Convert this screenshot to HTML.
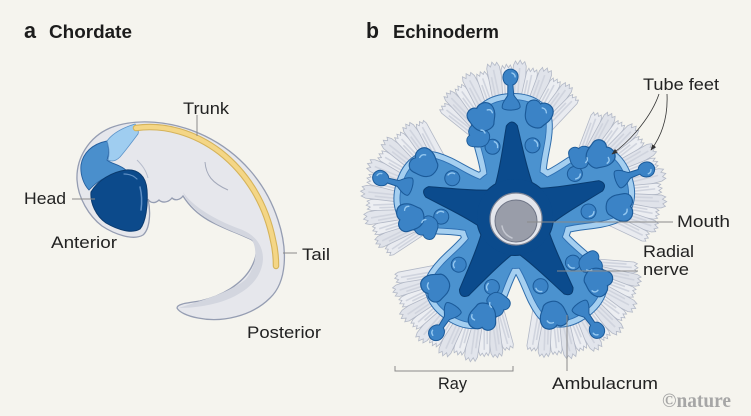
<!DOCTYPE html>
<html><head><meta charset="utf-8"><style>
html,body{margin:0;padding:0;background:#f5f4ee;}
svg{display:block;}
.lbl{font-family:"Liberation Sans",Arial,sans-serif;font-size:17px;fill:#222;}
.ttl{font-family:"Liberation Sans",Arial,sans-serif;font-weight:bold;fill:#1c1c1c;}
</style></head><body>
<svg width="751" height="416" viewBox="0 0 751 416" xmlns="http://www.w3.org/2000/svg">
<defs>
  <path id="lobe" d="M -26,-42 C -27,-60 -34,-74 -34,-92 C -34,-108 -19,-117 0,-117 C 19,-117 34,-108 34,-92 C 34,-74 27,-60 26,-42 Z"/>
  <path id="darm" d="M -18,-33 C -12,-52 -9,-72 -5,-91 Q 0,-98 5,-91 C 9,-72 12,-52 18,-33 Z"/>
  <path id="blob" d="M -12,-3 C -13,-10 -5,-13 -1,-9 C 3,-13 12,-11 12,-3 C 12,3 8,6 6,10 C 3,13 -5,13 -8,9 C -11,6 -11,2 -12,-3 Z"/>
  <g id="spine">
    <path d="M -6,0 L -5.5,-46 L -4,-50 L -2,-47 L 0,-51 L 2,-47.5 L 4,-50 L 5.5,-46 L 6,0 Z" stroke="#b2b8c6" stroke-width="0.8" vector-effect="non-scaling-stroke"/>
    <path d="M 0,-4 V -44 M -3,-8 V -38" fill="none" stroke="#d0d4de" stroke-width="1.6" vector-effect="non-scaling-stroke"/>
  </g>
  <g id="sp">
    <use href="#spine" fill="#e9ebf0" transform="translate(0,-55) rotate(-50) translate(0,-45) scale(1,0.9)"/>
    <use href="#spine" fill="#dfe2e9" transform="translate(0,-55) rotate(-42) translate(0,-45) scale(1.08,1)"/>
    <use href="#spine" fill="#eceef2" transform="translate(0,-55) rotate(-34) translate(0,-45) scale(1,0.96)"/>
    <use href="#spine" fill="#e2e5ec" transform="translate(0,-55) rotate(-26) translate(0,-45) scale(1.17,1.08)"/>
    <use href="#spine" fill="#eceef2" transform="translate(0,-55) rotate(-18) translate(0,-45) scale(1,1)"/>
    <use href="#spine" fill="#e0e3ea" transform="translate(0,-55) rotate(-10) translate(0,-45) scale(1.17,1.12)"/>
    <use href="#spine" fill="#eceef2" transform="translate(0,-55) rotate(-2) translate(0,-45) scale(1,1.04)"/>
    <use href="#spine" fill="#e2e5ec" transform="translate(0,-55) rotate(6) translate(0,-45) scale(1.17,1.12)"/>
    <use href="#spine" fill="#eceef2" transform="translate(0,-55) rotate(14) translate(0,-45) scale(1,1)"/>
    <use href="#spine" fill="#e0e3ea" transform="translate(0,-55) rotate(22) translate(0,-45) scale(1.17,1.08)"/>
    <use href="#spine" fill="#eceef2" transform="translate(0,-55) rotate(30) translate(0,-45) scale(1,0.96)"/>
    <use href="#spine" fill="#e2e5ec" transform="translate(0,-55) rotate(38) translate(0,-45) scale(1.08,1)"/>
    <use href="#spine" fill="#e9ebf0" transform="translate(0,-55) rotate(46) translate(0,-45) scale(1,0.9)"/>
  </g>
  <g id="feet">
    <g fill="#3b83c6" stroke="#1b5a99" stroke-width="1">
      <circle cx="-20" cy="-71" r="7.5"/>
      <circle cx="20" cy="-71" r="7.5"/>
      <use href="#blob" transform="translate(-34,-82) rotate(-75) scale(0.95)"/>
      <use href="#blob" transform="translate(-29,-101) rotate(-25) scale(1.15)"/>
      <use href="#blob" transform="translate(27,-102) rotate(20) scale(1.15)"/>
      <path d="M -9,-110 C -9,-116 -4,-119 -3,-122 L -2.5,-132 C -7.5,-134 -8.5,-141 -5.5,-145 C -2,-149 3,-149 6.5,-145 C 9.5,-141 7.5,-134 2.5,-132 L 3,-122 C 4,-119 9,-116 9,-110 C 9,-106 -9,-106 -9,-110 Z"/>
    </g>
    <g fill="none" stroke="#95c8f0" stroke-width="1.4" stroke-linecap="round">
      <path d="M -18,-76 A 5 5 0 0 1 -15,-70"/>
      <path d="M 22,-76 A 5 5 0 0 1 25,-70"/>
      <path d="M -24,-108 Q -20,-109 -19,-105"/>
      <path d="M 31,-108 Q 35,-107 35,-103"/>
      <path d="M -31,-88 Q -28,-88 -27,-85"/>
      <path d="M 2,-144 Q 5,-143 5,-140"/>
    </g>
  </g>
  <marker id="ah" viewBox="0 0 10 10" refX="9" refY="5" markerWidth="6" markerHeight="6" markerUnits="userSpaceOnUse" orient="auto"><path d="M0,1 L10,5 L0,9 Z" fill="#333"/></marker>
</defs>

<rect width="751" height="416" fill="#f5f4ee"/>

<!-- Titles -->
<text class="ttl" x="24" y="38" font-size="22" textLength="12" lengthAdjust="spacingAndGlyphs">a</text>
<text class="ttl" x="49" y="38" font-size="18" textLength="83" lengthAdjust="spacingAndGlyphs">Chordate</text>
<text class="ttl" x="366" y="38" font-size="22" textLength="13" lengthAdjust="spacingAndGlyphs">b</text>
<text class="ttl" x="393" y="38" font-size="18" textLength="106" lengthAdjust="spacingAndGlyphs">Echinoderm</text>

<!-- ===== Chordate embryo ===== -->
<path d="M 77,180 C 76,158 89,137 110,128 C 135,118 172,120 205,136 C 240,153 266,183 278,220 C 288,250 287,282 270,298 C 252,316 222,323 198,318 C 187,316 179,312 177,308 C 177,304 186,303 200,301 C 222,296 242,284 251,268 C 258,255 258,245 252,240 C 240,234 222,228 208,220 C 196,213 188,204 183,196 C 180,200 175,201 172,198 C 168,203 162,203 159,200 C 155,204 150,203 148,199 C 151,212 150,229 143,235 C 133,241 114,234 102,226 C 89,216 78,198 77,180 Z" fill="#e6e7ec" stroke="#959db2" stroke-width="1.3"/>
<path d="M 183,192 C 192,206 215,220 240,229 C 256,235 263,246 263,259 C 262,277 249,291 226,300 C 210,306 192,308 179,308 C 192,303 226,295 245,280 C 256,268 258,250 252,240 C 238,233 215,226 201,214 C 191,206 185,199 183,192 Z" fill="#d3d6df"/>
<path d="M 205,162 C 206,175 212,183 228,190" fill="none" stroke="#a3a9ba" stroke-width="1"/>
<path d="M 137,160 C 142,165 146,170 148,178" fill="none" stroke="#b6bccb" stroke-width="1"/>
<!-- head -->
<path d="M 89,190 C 84,185 80,175 81,165 C 83,153 92,144 107,141 C 109,148 109,155 107,160 C 111,164 120,164 127,171 C 113,172 98,180 89,190 Z" fill="#4a8fcc" stroke="#245f9f" stroke-width="0.9"/>
<path d="M 107,141 C 112,134 122,128 135,124 C 138,128 139,131 138,134 C 132,142 126,150 120,157 C 116,161 112,162 108,160 C 110,153 109,147 107,141 Z" fill="#9fcdf0" stroke="#5b93c9" stroke-width="0.8"/>
<path d="M 91,192 C 98,180 112,172 126,170 C 138,169 146,176 147,190 C 148,205 146,222 140,229 C 132,234 118,230 106,223 C 96,216 90,203 91,192 Z" fill="#0c4a8b" stroke="#0a3a6e" stroke-width="1"/>
<path d="M 140,187 C 142,195 142,203 141,210" fill="none" stroke="#5f8fc4" stroke-width="1.5" stroke-linecap="round"/>
<path d="M 124,174 C 130,174 134,176 137,179" fill="none" stroke="#5f8fc4" stroke-width="1.2" stroke-linecap="round"/>
<!-- notochord -->
<path d="M 136,128 C 165,124 195,133 220,152 C 248,174 266,205 273,240 C 276,252 276,260 276,266" fill="none" stroke="#d5b35a" stroke-width="6.5" stroke-linecap="round"/>
<path d="M 136,128 C 165,124 195,133 220,152 C 248,174 266,205 273,240 C 276,252 276,260 276,266" fill="none" stroke="#f4d686" stroke-width="4.3" stroke-linecap="round"/>

<!-- chordate pointers -->
<g stroke="#8a8a8a" stroke-width="1" fill="none">
  <path d="M197,115 V136"/>
  <path d="M72,199 H95"/>
  <path d="M283,253 H297"/>
</g>
<text class="lbl" x="183" y="114" textLength="46" lengthAdjust="spacingAndGlyphs">Trunk</text>
<text class="lbl" x="24" y="204" textLength="42" lengthAdjust="spacingAndGlyphs">Head</text>
<text class="lbl" x="51" y="248" textLength="66" lengthAdjust="spacingAndGlyphs">Anterior</text>
<text class="lbl" x="302" y="260" textLength="28" lengthAdjust="spacingAndGlyphs">Tail</text>
<text class="lbl" x="247" y="338" textLength="74" lengthAdjust="spacingAndGlyphs">Posterior</text>

<!-- ===== Echinoderm ===== -->
<!-- spines -->
<use href="#sp" transform="translate(515,217) rotate(-2)"/>
<use href="#sp" transform="translate(515,217) rotate(70)"/>
<use href="#sp" transform="translate(515,217) rotate(144)"/>
<use href="#sp" transform="translate(515,217) rotate(214)"/>
<use href="#sp" transform="translate(515,217) rotate(286)"/>

<!-- body border layers -->
<g fill="none" stroke="#2f6dac" stroke-width="14" stroke-linejoin="round">
  <use href="#lobe" transform="translate(515,217) rotate(-2)"/>
  <use href="#lobe" transform="translate(515,217) rotate(70)"/>
  <use href="#lobe" transform="translate(515,217) rotate(144)"/>
  <use href="#lobe" transform="translate(515,217) rotate(214)"/>
  <use href="#lobe" transform="translate(515,217) rotate(286)"/>
  <circle cx="515" cy="217" r="51"/>
</g>
<g fill="none" stroke="#a5cff0" stroke-width="12" stroke-linejoin="round">
  <use href="#lobe" transform="translate(515,217) rotate(-2)"/>
  <use href="#lobe" transform="translate(515,217) rotate(70)"/>
  <use href="#lobe" transform="translate(515,217) rotate(144)"/>
  <use href="#lobe" transform="translate(515,217) rotate(214)"/>
  <use href="#lobe" transform="translate(515,217) rotate(286)"/>
  <circle cx="515" cy="217" r="51"/>
</g>
<g fill="none" stroke="#2f70b3" stroke-width="1.8">
  <use href="#lobe" transform="translate(515,217) rotate(-2)"/>
  <use href="#lobe" transform="translate(515,217) rotate(70)"/>
  <use href="#lobe" transform="translate(515,217) rotate(144)"/>
  <use href="#lobe" transform="translate(515,217) rotate(214)"/>
  <use href="#lobe" transform="translate(515,217) rotate(286)"/>
  <circle cx="515" cy="217" r="51"/>
</g>
<g fill="#4b92cf">
  <use href="#lobe" transform="translate(515,217) rotate(-2)"/>
  <use href="#lobe" transform="translate(515,217) rotate(70)"/>
  <use href="#lobe" transform="translate(515,217) rotate(144)"/>
  <use href="#lobe" transform="translate(515,217) rotate(214)"/>
  <use href="#lobe" transform="translate(515,217) rotate(286)"/>
  <circle cx="515" cy="217" r="51"/>
</g>

<!-- dark radial star -->
<g fill="none" stroke="#083b70" stroke-width="2">
  <use href="#darm" transform="translate(515,217) rotate(-2)"/>
  <use href="#darm" transform="translate(515,217) rotate(70)"/>
  <use href="#darm" transform="translate(515,217) rotate(144)"/>
  <use href="#darm" transform="translate(515,217) rotate(214)"/>
  <use href="#darm" transform="translate(515,217) rotate(286)"/>
  <circle cx="515" cy="217" r="38"/>
</g>
<g fill="#0b4b8d">
  <use href="#darm" transform="translate(515,217) rotate(-2)"/>
  <use href="#darm" transform="translate(515,217) rotate(70)"/>
  <use href="#darm" transform="translate(515,217) rotate(144)"/>
  <use href="#darm" transform="translate(515,217) rotate(214)"/>
  <use href="#darm" transform="translate(515,217) rotate(286)"/>
  <circle cx="515" cy="217" r="38"/>
</g>

<!-- tube feet -->
<use href="#feet" transform="translate(515,217) rotate(-2)"/>
<use href="#feet" transform="translate(515,217) rotate(70)"/>
<use href="#feet" transform="translate(515,217) rotate(144)"/>
<use href="#feet" transform="translate(515,217) rotate(214)"/>
<use href="#feet" transform="translate(515,217) rotate(286)"/>

<!-- mouth -->
<circle cx="516" cy="219" r="26" fill="#e4e6ec" stroke="#7d8495" stroke-width="1.2"/>
<circle cx="516" cy="221" r="21" fill="#999da9" stroke="#6f7586" stroke-width="1"/>
<path d="M 502,226 C 503,232 507,236 512,238" fill="none" stroke="#c4c7d0" stroke-width="1.5" stroke-linecap="round"/>

<!-- echinoderm pointers -->
<g stroke="#8a8a8a" stroke-width="1" fill="none">
  <path d="M527,222 H673"/>
  <path d="M557,271 H638"/>
  <path d="M567,315 V371"/>
  <path d="M395,366 V371 H513 V366"/>
</g>
<g stroke="#333" stroke-width="0.8" fill="none">
  <path d="M659,94 C 652,115 632,140 612,154" marker-end="url(#ah)"/>
  <path d="M667,94 C 668,115 663,134 651,150" marker-end="url(#ah)"/>
</g>

<text class="lbl" x="643" y="90" textLength="76" lengthAdjust="spacingAndGlyphs">Tube feet</text>
<text class="lbl" x="677" y="227" textLength="53" lengthAdjust="spacingAndGlyphs">Mouth</text>
<text class="lbl" x="643" y="257" textLength="51" lengthAdjust="spacingAndGlyphs">Radial</text>
<text class="lbl" x="643" y="275" textLength="46" lengthAdjust="spacingAndGlyphs">nerve</text>
<text class="lbl" x="438" y="389" textLength="29" lengthAdjust="spacingAndGlyphs">Ray</text>
<text class="lbl" x="552" y="389" textLength="106" lengthAdjust="spacingAndGlyphs">Ambulacrum</text>
<text x="662" y="407" font-family="'Liberation Serif',serif" font-weight="bold" font-size="20" fill="#a6a6a6" textLength="69" lengthAdjust="spacingAndGlyphs">©nature</text>
</svg>
</body></html>
